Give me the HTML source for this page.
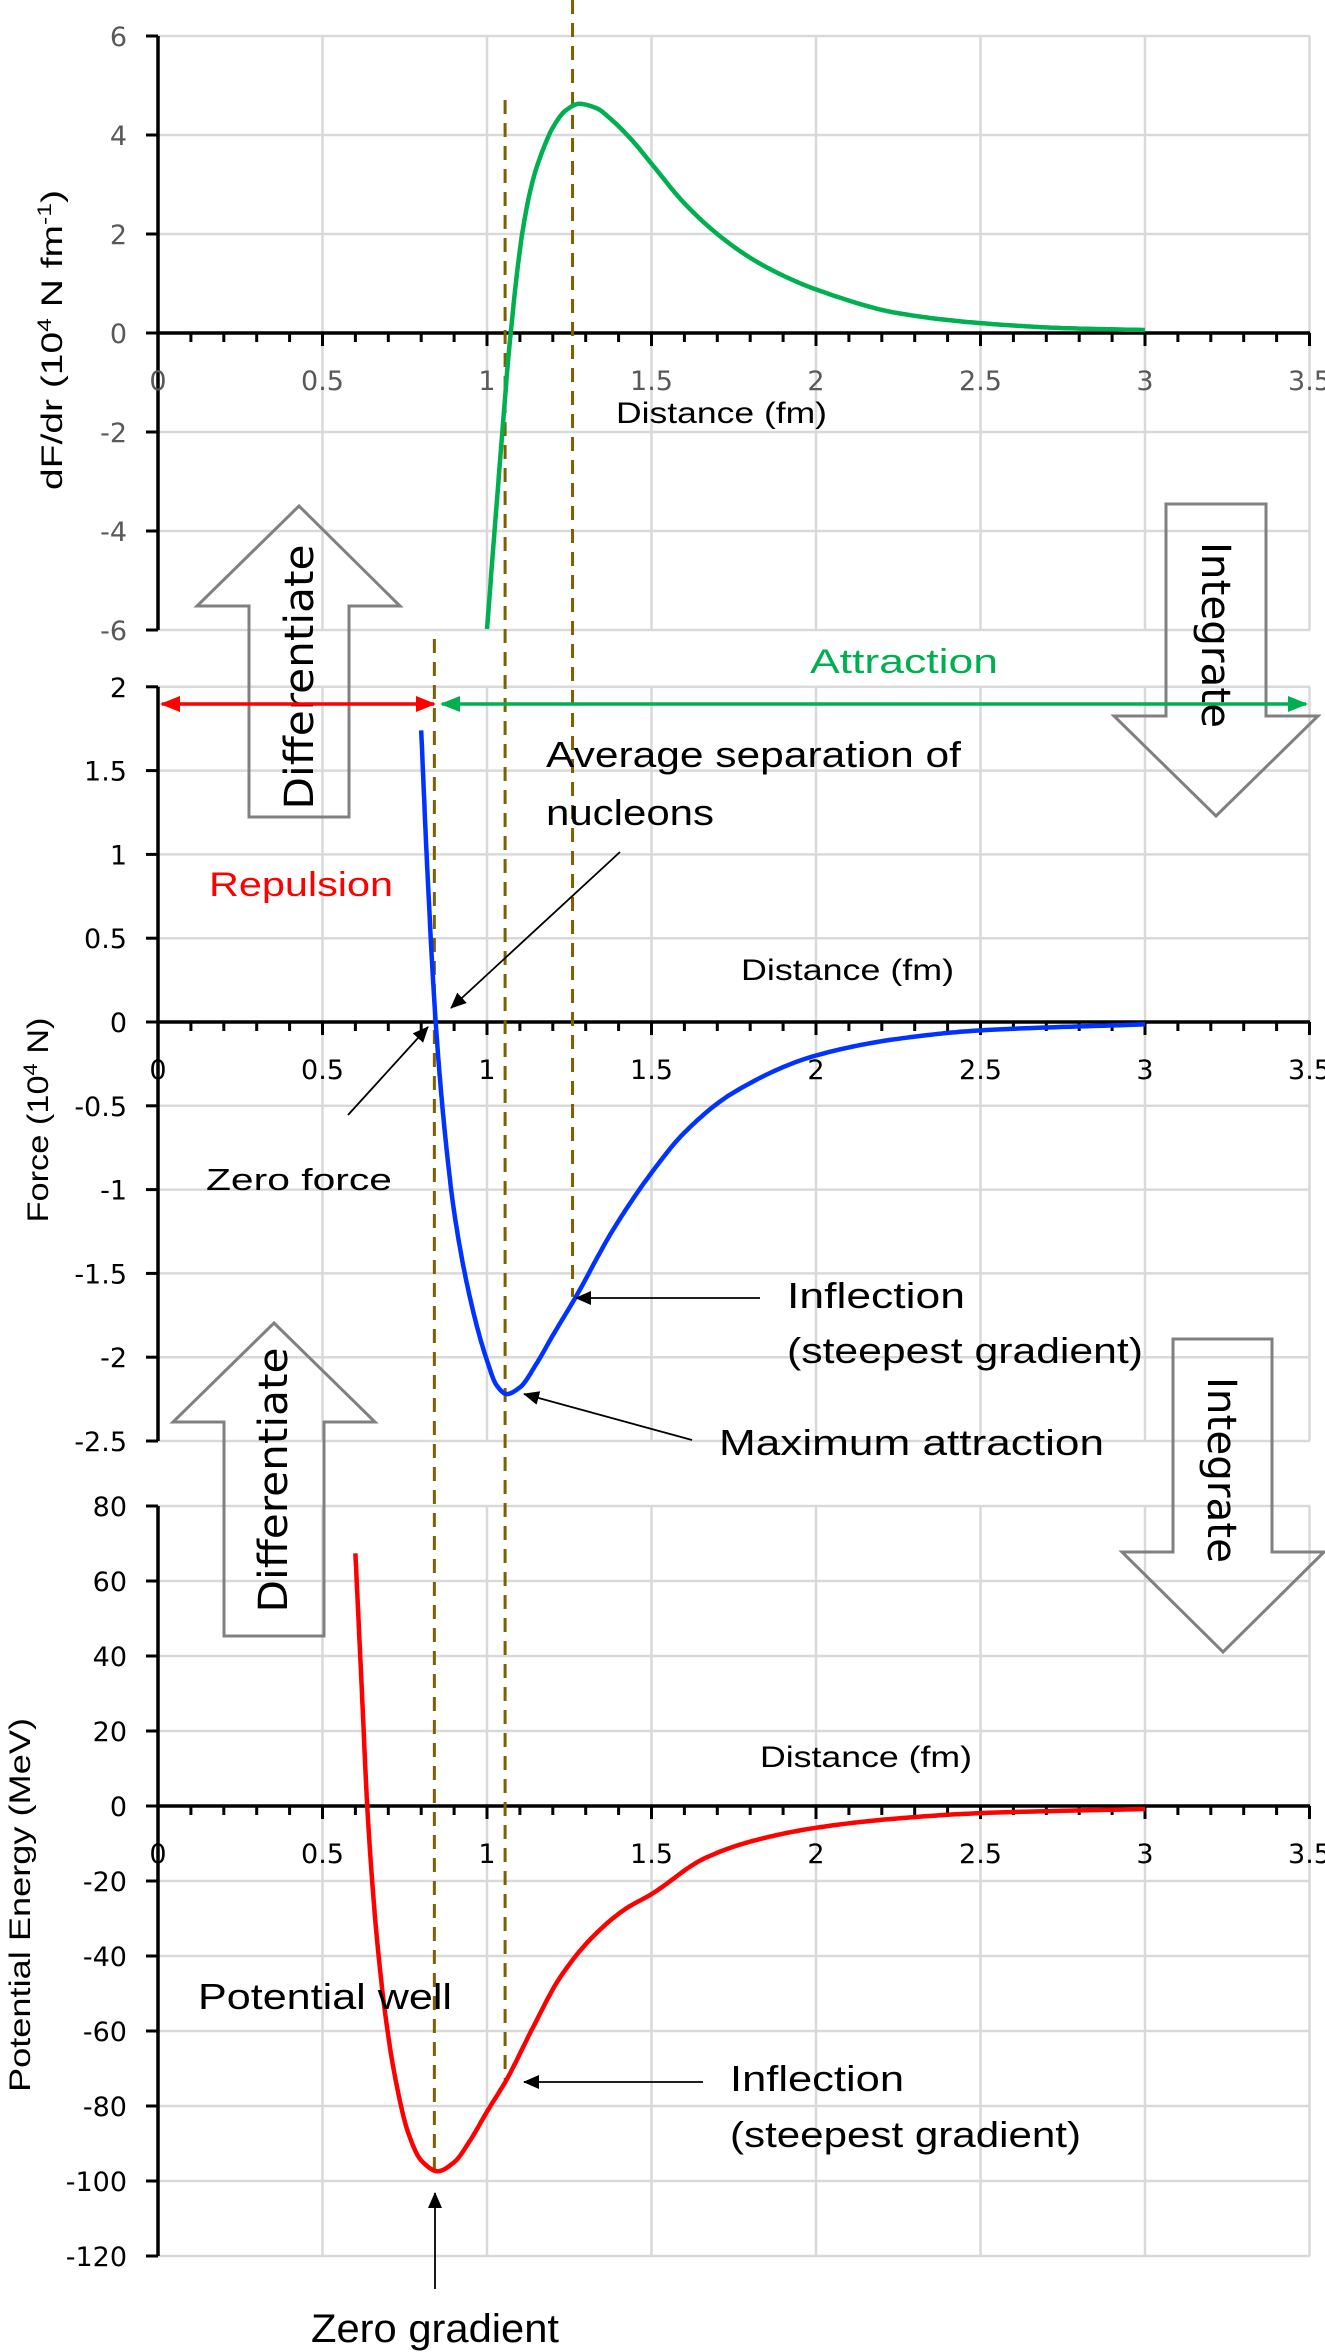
<!DOCTYPE html>
<html><head><meta charset="utf-8"><title>Nuclear force, potential and derivative</title>
<style>
html,body{margin:0;padding:0;background:#fff;}
svg{display:block;font-family:"Liberation Sans","DejaVu Sans",sans-serif;}
</style></head>
<body>
<svg id="chart" xmlns="http://www.w3.org/2000/svg" width="1325" height="2352" viewBox="0 0 1325 2352">
<defs>
<marker id="ahBlack" markerWidth="16" markerHeight="16" refX="15" refY="8" orient="auto" markerUnits="userSpaceOnUse" viewBox="0 0 16 16"><path d="M0,1 L16,8 L0,15 z" fill="#000"/></marker>
<marker id="ahRed" markerWidth="20" markerHeight="20" refX="18" refY="10" orient="auto-start-reverse" markerUnits="userSpaceOnUse" viewBox="0 0 20 20"><path d="M0,2 L20,10 L0,18 z" fill="#ff0000"/></marker>
<marker id="ahGreen" markerWidth="20" markerHeight="20" refX="18" refY="10" orient="auto-start-reverse" markerUnits="userSpaceOnUse" viewBox="0 0 20 20"><path d="M0,2 L20,10 L0,18 z" fill="#00b050"/></marker>
</defs>
<g id="grid"></g>
<g id="axes"></g>
<g id="series"></g>
<g id="annot">
  <path d="M299,506 L400,606 L349,606 L349,817 L249,817 L249,606 L197,606 Z" fill="none" stroke="#808080" stroke-width="3"/>
  <text transform="translate(313,677) rotate(-90)" text-anchor="middle" font-family="DejaVu Sans, sans-serif" font-size="40" textLength="265" lengthAdjust="spacingAndGlyphs">Differentiate</text>
  <path d="M1166,504 L1266,504 L1266,716 L1318,716 L1216,816 L1114,716 L1166,716 Z" fill="none" stroke="#808080" stroke-width="3"/>
  <text transform="translate(1202,635) rotate(90)" text-anchor="middle" font-family="DejaVu Sans, sans-serif" font-size="40" textLength="186" lengthAdjust="spacingAndGlyphs">Integrate</text>
  <path d="M274,1323 L375,1422 L324,1422 L324,1636 L224,1636 L224,1422 L173,1422 Z" fill="none" stroke="#808080" stroke-width="3"/>
  <text transform="translate(287,1480) rotate(-90)" text-anchor="middle" font-family="DejaVu Sans, sans-serif" font-size="40" textLength="265" lengthAdjust="spacingAndGlyphs">Differentiate</text>
  <path d="M1173,1339 L1272,1339 L1272,1552 L1324,1552 L1223,1652 L1122,1552 L1173,1552 Z" fill="none" stroke="#808080" stroke-width="3"/>
  <text transform="translate(1208,1470) rotate(90)" text-anchor="middle" font-family="DejaVu Sans, sans-serif" font-size="40" textLength="186" lengthAdjust="spacingAndGlyphs">Integrate</text>

  <line x1="162" y1="704" x2="434" y2="704" stroke="#ff0000" stroke-width="3.5" marker-start="url(#ahRed)" marker-end="url(#ahRed)"/>
  <line x1="442" y1="704" x2="1306" y2="704" stroke="#00b050" stroke-width="3.5" marker-start="url(#ahGreen)" marker-end="url(#ahGreen)"/>
  <text x="810" y="673" fill="#00b050" font-size="34" textLength="188" lengthAdjust="spacingAndGlyphs">Attraction</text>
  <text x="209" y="896" fill="#ff0000" font-size="34" textLength="184" lengthAdjust="spacingAndGlyphs">Repulsion</text>

  <text x="546" y="767" font-size="36" textLength="415" lengthAdjust="spacingAndGlyphs">Average separation of</text>
  <text x="546" y="825" font-size="36" textLength="168" lengthAdjust="spacingAndGlyphs">nucleons</text>
  <line x1="620" y1="852" x2="451" y2="1008" stroke="#000" stroke-width="1.8" marker-end="url(#ahBlack)"/>
  <line x1="348" y1="1115" x2="428" y2="1027" stroke="#000" stroke-width="1.8" marker-end="url(#ahBlack)"/>
  <text x="206" y="1190" font-size="31" textLength="186" lengthAdjust="spacingAndGlyphs">Zero force</text>

  <text x="787" y="1308" font-size="36" textLength="178" lengthAdjust="spacingAndGlyphs">Inflection</text>
  <text x="787" y="1363" font-size="36" textLength="356" lengthAdjust="spacingAndGlyphs">(steepest gradient)</text>
  <line x1="760" y1="1298" x2="576" y2="1298" stroke="#000" stroke-width="1.8" marker-end="url(#ahBlack)"/>
  <text x="719" y="1455" font-size="36" textLength="385" lengthAdjust="spacingAndGlyphs">Maximum attraction</text>
  <line x1="692" y1="1440" x2="524" y2="1394" stroke="#000" stroke-width="1.8" marker-end="url(#ahBlack)"/>

  <text x="198" y="2009" font-size="36" textLength="254" lengthAdjust="spacingAndGlyphs">Potential well</text>
  <text x="730" y="2091" font-size="36" textLength="174" lengthAdjust="spacingAndGlyphs">Inflection</text>
  <text x="730" y="2147" font-size="36" textLength="351" lengthAdjust="spacingAndGlyphs">(steepest gradient)</text>
  <line x1="703" y1="2082" x2="524" y2="2082" stroke="#000" stroke-width="1.8" marker-end="url(#ahBlack)"/>
  <line x1="435" y1="2289" x2="435" y2="2193" stroke="#000" stroke-width="1.8" marker-end="url(#ahBlack)"/>
  <text x="311" y="2342" font-size="40" textLength="248" lengthAdjust="spacingAndGlyphs">Zero gradient</text>

  <text transform="translate(62,340) rotate(-90)" text-anchor="middle" font-size="30" textLength="300" lengthAdjust="spacingAndGlyphs">dF/dr  (10<tspan font-size="19" dy="-11">4</tspan><tspan dy="11"> N fm</tspan><tspan font-size="19" dy="-11">-1</tspan><tspan dy="11">)</tspan></text>
  <text transform="translate(48,1120) rotate(-90)" text-anchor="middle" font-size="30" textLength="205" lengthAdjust="spacingAndGlyphs">Force (10<tspan font-size="19" dy="-11">4</tspan><tspan dy="11"> N)</tspan></text>
  <text transform="translate(30,1905) rotate(-90)" text-anchor="middle" font-size="30" textLength="374" lengthAdjust="spacingAndGlyphs">Potential Energy (MeV)</text>
  <text x="616" y="423" font-size="30" textLength="211" lengthAdjust="spacingAndGlyphs">Distance (fm)</text>
  <text x="741" y="980" font-size="30" textLength="213" lengthAdjust="spacingAndGlyphs">Distance (fm)</text>
  <text x="760" y="1767" font-size="30" textLength="212" lengthAdjust="spacingAndGlyphs">Distance (fm)</text>
</g>
</svg>
<script>
// ---- data ----
const xTicks = [0, 0.5, 1, 1.5, 2, 2.5, 3, 3.5];
const xTickLabels = ["0", "0.5", "1", "1.5", "2", "2.5", "3", "3.5"];
const topYTicks = [6, 4, 2, 0, -2, -4, -6];
const midYTicks = [2, 1.5, 1, 0.5, 0, -0.5, -1, -1.5, -2, -2.5];
const botYTicks = [80, 60, 40, 20, 0, -20, -40, -60, -80, -100, -120];

const dfdrX = [1.0, 1.036, 1.072, 1.108, 1.14, 1.17, 1.2, 1.24, 1.28, 1.33, 1.38, 1.44, 1.5, 1.6, 1.7, 1.8, 1.9, 2.0, 2.25, 2.5, 2.75, 3.0];
const dfdrY = [-5.98, -2.89, 0, 2.05, 3.1, 3.7, 4.15, 4.5, 4.63, 4.55, 4.3, 3.9, 3.42, 2.62, 2.0, 1.52, 1.16, 0.88, 0.40, 0.2, 0.1, 0.06];

const forceX = [0.80, 0.82, 0.844, 0.87, 0.9, 0.95, 1.0, 1.03, 1.06, 1.1, 1.15, 1.2, 1.27, 1.38, 1.5, 1.6, 1.75, 2.0, 2.25, 2.5, 3.0];
const forceY = [1.74, 0.85, 0, -0.62, -1.13, -1.66, -2.02, -2.17, -2.22, -2.18, -2.04, -1.87, -1.64, -1.25, -0.90, -0.66, -0.42, -0.20, -0.10, -0.05, -0.014];

const potX = [0.60, 0.62, 0.636, 0.66, 0.69, 0.72, 0.76, 0.8, 0.85, 0.9, 0.95, 1.0, 1.06, 1.14, 1.22, 1.32, 1.42, 1.5, 1.66, 1.8, 2.0, 2.25, 2.5, 3.0];
const potY = [67.4, 30, 0, -30, -55, -72, -87, -94.5, -97.4, -95, -89, -81.5, -72.9, -59, -46, -35, -27.5, -23.5, -14, -9.5, -5.8, -3.3, -1.9, -0.8];

const markerX = [0.84, 1.055, 1.26];

// ---- axis functions ----
const X = x => 158 + x * 329;
const yT = v => 333 - v * 49.5;
const yM = v => 1022 - v * 167.6;
const yB = v => 1806 - v * 3.75;
const NS = "http://www.w3.org/2000/svg";
function mk(tag, attrs, parent) {
  const e = document.createElementNS(NS, tag);
  for (const k in attrs) e.setAttribute(k, attrs[k]);
  parent.appendChild(e);
  return e;
}
const grid = document.getElementById("grid");
const axes = document.getElementById("axes");
const series = document.getElementById("series");

function panel(name, yf, ticks, labelColor) {
  const top = yf(ticks[0]), bot = yf(ticks[ticks.length - 1]);
  ticks.forEach(t => {
    const g = mk("line", {x1: 158, x2: 1310, y1: yf(t), y2: yf(t), stroke: "#d9d9d9", "stroke-width": 2.5}, grid);
    
    
    const tk = mk("line", {x1: 146, x2: 158, y1: yf(t), y2: yf(t), stroke: "#000", "stroke-width": 3}, axes);
    
    
    const lb = mk("text", {x: 127, y: yf(t) + 10, "text-anchor": "end", "font-size": 27, fill: labelColor, "font-family": "DejaVu Sans, sans-serif"}, axes);
    lb.textContent = String(t);
    
    
  });
  xTicks.forEach(x => {
    if (x === 0) return;
    const g = mk("line", {x1: X(x), x2: X(x), y1: top, y2: bot, stroke: "#d9d9d9", "stroke-width": 2.5}, grid);
    
    
  });
  const ya = mk("line", {x1: 158, x2: 158, y1: top, y2: bot, stroke: "#000", "stroke-width": 3.5}, axes);
  
  
  const y0 = yf(0);
  const xa = mk("line", {x1: 158, x2: 1310, y1: y0, y2: y0, stroke: "#000", "stroke-width": 3.5}, axes);
  
  
  for (let i = 1; i <= 35; i++) {
    const major = i % 5 === 0;
    const t = mk("line", {x1: X(i / 10), x2: X(i / 10), y1: y0, y2: y0 + (major ? 13 : 9), stroke: "#000", "stroke-width": 3}, axes);
    
    
  }
  xTicks.forEach((x, i) => {
    const lb = mk("text", {x: X(x), y: y0 + 57, "text-anchor": "middle", "font-size": 27, fill: labelColor, "font-family": "DejaVu Sans, sans-serif"}, axes);
    lb.textContent = xTickLabels[i];
    
    
  });
}
panel("top", yT, topYTicks, "#595959");
panel("middle", yM, midYTicks, "#000");
panel("bottom", yB, botYTicks, "#000");

// monotone cubic (Fritsch-Carlson) interpolation sampled densely
function smoothPath(xs, ys, xf, yf) {
  const n = xs.length, d = [], m = new Array(n);
  for (let i = 0; i < n - 1; i++) d.push((ys[i + 1] - ys[i]) / (xs[i + 1] - xs[i]));
  m[0] = d[0]; m[n - 1] = d[n - 2];
  for (let i = 1; i < n - 1; i++) {
    if (d[i - 1] * d[i] <= 0) m[i] = 0;
    else {
      const h0 = xs[i] - xs[i - 1], h1 = xs[i + 1] - xs[i];
      const w1 = 2 * h1 + h0, w2 = h1 + 2 * h0;
      m[i] = (w1 + w2) / (w1 / d[i - 1] + w2 / d[i]);
    }
  }
  let path = "";
  for (let i = 0; i < n - 1; i++) {
    const h = xs[i + 1] - xs[i];
    for (let k = 0; k <= 20; k++) {
      if (i > 0 && k === 0) continue;
      const t = k / 20, t2 = t * t, t3 = t2 * t;
      const v = (2 * t3 - 3 * t2 + 1) * ys[i] + (t3 - 2 * t2 + t) * h * m[i] + (-2 * t3 + 3 * t2) * ys[i + 1] + (t3 - t2) * h * m[i + 1];
      const x = xs[i] + t * h;
      path += (path ? " L" : "M") + xf(x).toFixed(1) + "," + yf(v).toFixed(1);
    }
  }
  return path;
}

const markerTop = [639, 100, 0];
const markerBottom = [yB(-97.4), yB(-72.9), yM(-1.64)];
markerX.forEach((x, i) => {
  const l = mk("line", {x1: X(x), x2: X(x), y1: markerTop[i], y2: markerBottom[i], stroke: "#7f6000", "stroke-width": 3, "stroke-dasharray": "14,9"}, series);
  
  
});

const g1 = mk("path", {d: smoothPath(dfdrX, dfdrY, X, yT), fill: "none", stroke: "#00b050", "stroke-width": 4.5, "stroke-linejoin": "round"}, series);


const g2 = mk("path", {d: smoothPath(forceX, forceY, X, yM), fill: "none", stroke: "#0033ff", "stroke-width": 4.5, "stroke-linejoin": "round"}, series);


const g3 = mk("path", {d: smoothPath(potX, potY, X, yB), fill: "none", stroke: "#ff0000", "stroke-width": 4.5, "stroke-linejoin": "round"}, series);


</script>
</body></html>
